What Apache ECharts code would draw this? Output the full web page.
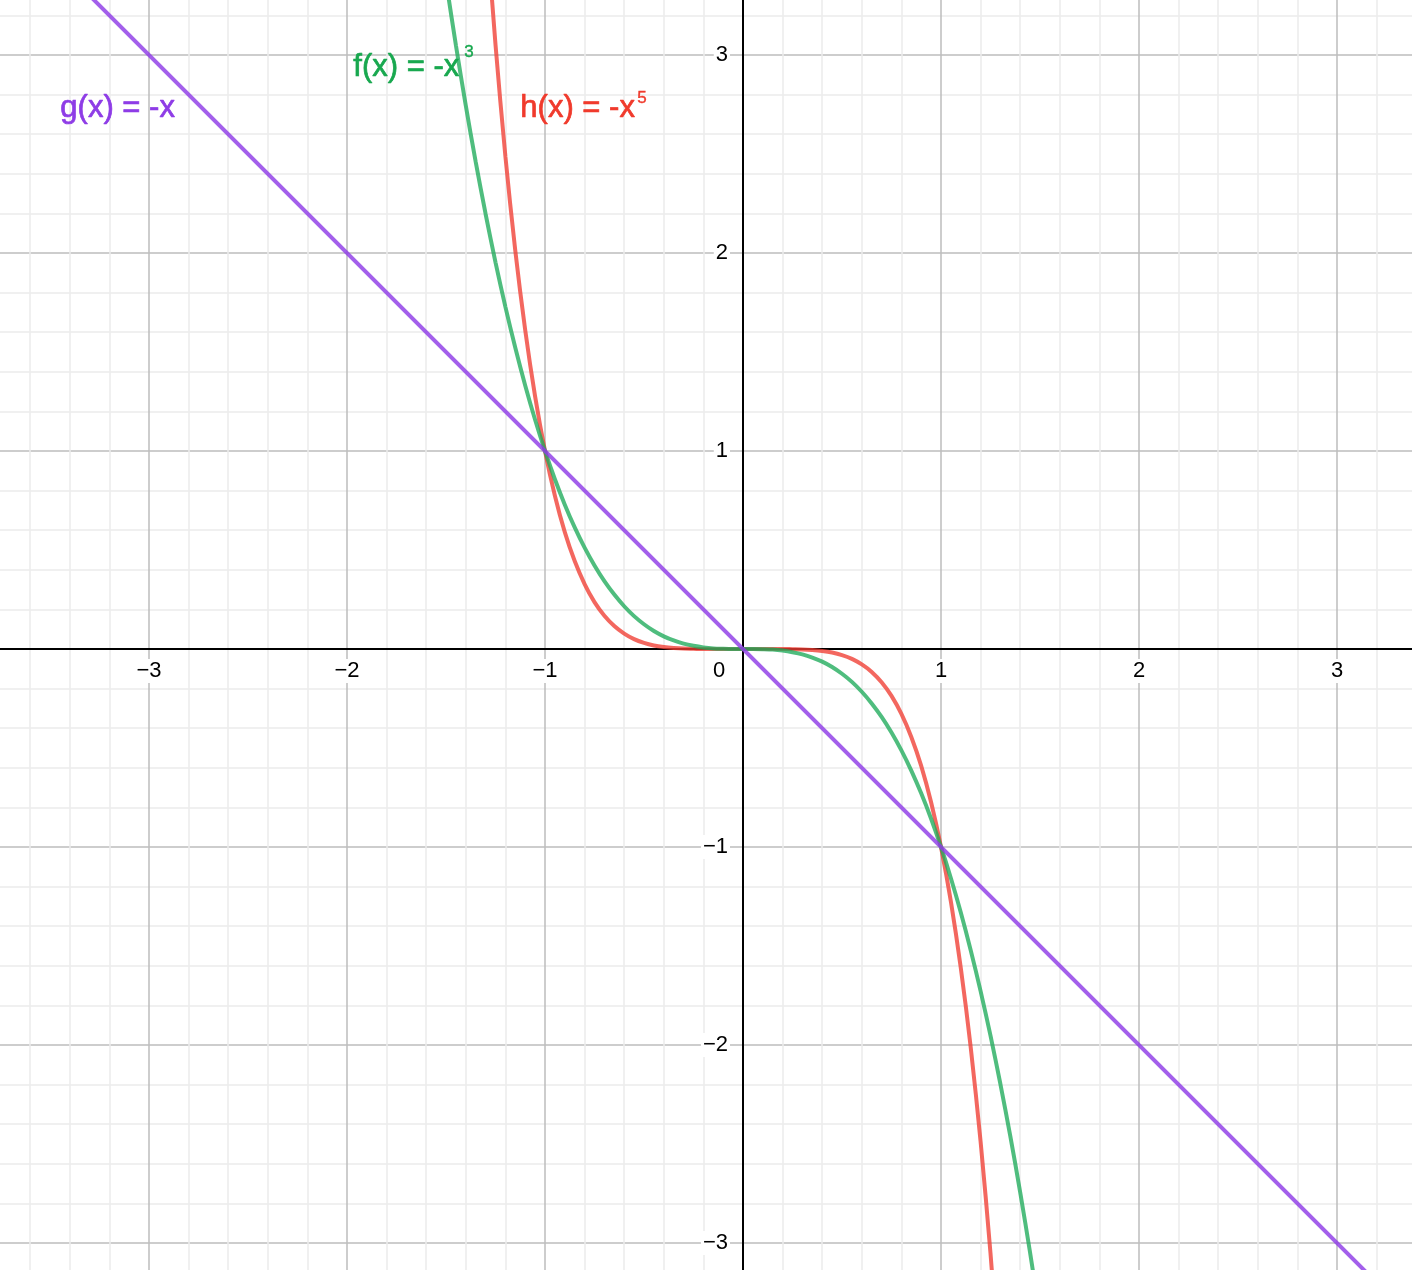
<!DOCTYPE html>
<html>
<head>
<meta charset="utf-8">
<script src="https://cdn.jsdelivr.net/npm/echarts@6/dist/echarts.min.js"></script>
<style>
html,body{margin:0;padding:0;background:#fff;}
#chart{width:1412px;height:1270px;}
</style>
</head>
<body>
<div id="chart"></div>
<script>
// g(x) = -x
var gX = [-4, 4];
var gY = [4, -4];

// f(x) = -x^3
var fX = [-1.5,-1.45,-1.4,-1.35,-1.3,-1.25,-1.2,-1.15,-1.1,-1.05,-1,-0.95,-0.9,-0.85,-0.8,-0.75,-0.7,-0.65,-0.6,-0.55,-0.5,-0.45,-0.4,-0.35,-0.3,-0.25,-0.2,-0.15,-0.1,-0.05,0,
          0.05,0.1,0.15,0.2,0.25,0.3,0.35,0.4,0.45,0.5,0.55,0.6,0.65,0.7,0.75,0.8,0.85,0.9,0.95,1,1.05,1.1,1.15,1.2,1.25,1.3,1.35,1.4,1.45,1.5];
var fY = [3.375,3.049,2.744,2.460,2.197,1.953,1.728,1.521,1.331,1.158,1,0.857,0.729,0.614,0.512,0.422,0.343,0.275,0.216,0.166,0.125,0.091,0.064,0.043,0.027,0.016,0.008,0.003,0.001,0,0,
          0,-0.001,-0.003,-0.008,-0.016,-0.027,-0.043,-0.064,-0.091,-0.125,-0.166,-0.216,-0.275,-0.343,-0.422,-0.512,-0.614,-0.729,-0.857,-1,-1.158,-1.331,-1.521,-1.728,-1.953,-2.197,-2.460,-2.744,-3.049,-3.375];

// h(x) = -x^5
var hX = [-1.3,-1.25,-1.2,-1.15,-1.1,-1.05,-1,-0.95,-0.9,-0.85,-0.8,-0.75,-0.7,-0.65,-0.6,-0.55,-0.5,-0.45,-0.4,-0.35,-0.3,-0.25,-0.2,-0.1,0,
          0.1,0.2,0.25,0.3,0.35,0.4,0.45,0.5,0.55,0.6,0.65,0.7,0.75,0.8,0.85,0.9,0.95,1,1.05,1.1,1.15,1.2,1.25,1.3];
var hY = [3.713,3.052,2.488,2.011,1.611,1.276,1,0.774,0.590,0.444,0.328,0.237,0.168,0.116,0.078,0.050,0.031,0.018,0.010,0.005,0.002,0.001,0,0,0,
          0,0,-0.001,-0.002,-0.005,-0.010,-0.018,-0.031,-0.050,-0.078,-0.116,-0.168,-0.237,-0.328,-0.444,-0.590,-0.774,-1,-1.276,-1.611,-2.011,-2.488,-3.052,-3.713];

var axisMin = -4, axisMax = 4;

function pairs(xs, ys){ return xs.map(function(x,i){ return [x, ys[i]]; }); }

var FONT = '"Liberation Sans", Arial, Helvetica, sans-serif';
var LABEL_SIZE = 22;

function tickFmt(v){
  if (v <= axisMin || v >= axisMax) return '';
  if (v === 0) return '{z|0}';
  return '{n|' + (v < 0 ? '\u2212' + Math.abs(v) : String(v)) + '}';
}
function tickFmtY(v){
  if (v <= axisMin || v >= axisMax || v === 0) return '';
  return '{n|' + (v < 0 ? '\u2212' + Math.abs(v) : String(v)) + '}';
}

var labelRich = {
  n: {backgroundColor:'#ffffff', padding:[1,2,1,2], fontSize:LABEL_SIZE, lineHeight:LABEL_SIZE, fontFamily:FONT, color:'#000'},
  z: {padding:[1,48,1,0], fontSize:LABEL_SIZE, lineHeight:LABEL_SIZE, fontFamily:FONT, color:'#000'}
};

// grid box extends beyond the canvas so that -4..4 maps to the visible window
var G = {left:-49, right:-123, top:-143, bottom:-171};
var W = 1412, H = 1270;
var gridW = W - G.left - G.right, gridH = H - G.top - G.bottom;
// offsets that bring the axes (with their labels) onto the zero lines
var xOffset = -(gridH * (0 - axisMin) / (axisMax - axisMin));
var yOffset = -(gridW * (0 - axisMin) / (axisMax - axisMin));

function labelCfg(fmt, margin){
  return {formatter:fmt, rich:labelRich, margin:margin, color:'#000',
          fontSize:LABEL_SIZE, fontFamily:FONT};
}

var chart = echarts.init(document.getElementById('chart'));
chart.setOption({
  animation:false,
  backgroundColor:'#ffffff',
  textStyle:{fontFamily:FONT},
  grid: {left:G.left, right:G.right, top:G.top, bottom:G.bottom, containLabel:false, outerBoundsMode:'none'},
  xAxis: {
    type:'value', min:axisMin, max:axisMax, interval:1, position:'bottom', offset:xOffset,
    axisLine:{show:true, onZero:false, lineStyle:{color:'#000', width:2}},
    axisTick:{show:false},
    minorTick:{show:false, splitNumber:5},
    splitLine:{show:true, lineStyle:{color:'#bdbdbd', width:1.5}},
    minorSplitLine:{show:true, lineStyle:{color:'#ebebeb', width:1.5}},
    axisLabel:labelCfg(tickFmt, 11)
  },
  yAxis: {
    type:'value', min:axisMin, max:axisMax, interval:1, position:'left', offset:yOffset,
    axisLine:{show:true, onZero:false, lineStyle:{color:'#000', width:2}},
    axisTick:{show:false},
    minorTick:{show:false, splitNumber:5},
    splitLine:{show:true, lineStyle:{color:'#bdbdbd', width:1.5}},
    minorSplitLine:{show:true, lineStyle:{color:'#ebebeb', width:1.5}},
    axisLabel:labelCfg(tickFmtY, 13)
  },
  series: [
    {type:'line', name:'h', data:pairs(hX,hY), smooth:0.3, showSymbol:false, symbol:'none',
     lineStyle:{color:'rgba(240,60,50,0.78)', width:4}, z:3},
    {type:'line', name:'f', data:pairs(fX,fY), smooth:0.3, showSymbol:false, symbol:'none',
     lineStyle:{color:'rgba(30,170,90,0.78)', width:4}, z:4},
    {type:'line', name:'g', data:pairs(gX,gY), showSymbol:false, symbol:'none',
     lineStyle:{color:'rgba(143,60,230,0.82)', width:4}, z:5}
  ],
  graphic: [
    {type:'text', left:60, top:93, z:100, style:{text:'g(x) = -x', fill:'#8e3ce6', stroke:'#8e3ce6', lineWidth:0.7, font:'31px ' + FONT}},
    {type:'text', left:353, top:52, z:100, style:{text:'f(x) = -x', fill:'#18a84f', stroke:'#18a84f', lineWidth:0.7, font:'31px ' + FONT}},
    {type:'text', left:464, top:44, z:100, style:{text:'3', fill:'#18a84f', stroke:'#18a84f', lineWidth:0.4, font:'17px ' + FONT}},
    {type:'text', left:637, top:90, z:100, style:{text:'5', fill:'#f03a2c', stroke:'#f03a2c', lineWidth:0.4, font:'17px ' + FONT}},
    {type:'text', left:520, top:93, z:100, style:{text:'h(x) = -x', fill:'#f03a2c', stroke:'#f03a2c', lineWidth:0.7, font:'31px ' + FONT}}
  ]
});
</script>
</body>
</html>
